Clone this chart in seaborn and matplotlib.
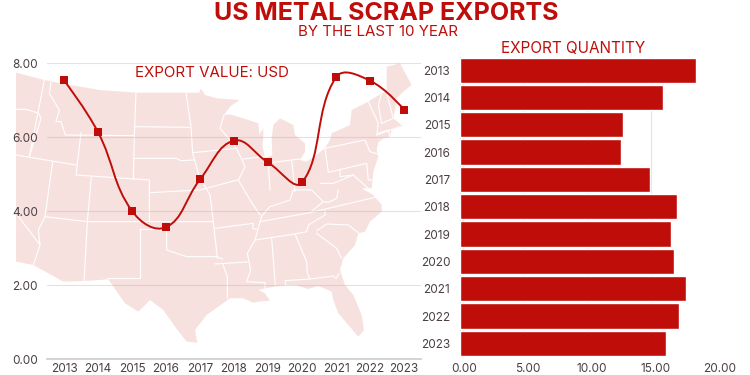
import numpy as np
import pandas as pd
import matplotlib
matplotlib.use("Agg")
import matplotlib.pyplot as plt
from matplotlib.path import Path
from matplotlib.patches import Polygon, PathPatch
from matplotlib.transforms import ScaledTranslation
import seaborn as sns

years = ["2013", "2014", "2015", "2016", "2017", "2018", "2019", "2020", "2021", "2022", "2023"]
export_value = [7.54, 6.14, 4.01, 3.57, 4.86, 5.91, 5.32, 4.78, 7.62, 7.53, 6.75]
export_quantity = [18.49, 15.87, 12.77, 12.58, 14.86, 17.0, 16.5, 16.79, 17.73, 17.15, 16.11]

RED = "#BF0D0A"
MAP = "#F6E1DF"
TXT = "#4A3F45"
FONT = "Inter"

sns.set_theme(style="white")
plt.rcParams["font.family"] = [FONT, "DejaVu Sans"]

W, H = 750, 375
fig = plt.figure(figsize=(W / 100, H / 100), dpi=100, facecolor="white")


def box(l, t, r, b):
    return [l / W, 1 - b / H, (r - l) / W, (b - t) / H]


# decorative map backdrop, traced at 3x (offset y 40)
bg = fig.add_axes([0, 0, 1, 1], zorder=0)
bg.set_xlim(0, W)
bg.set_ylim(H, 0)
bg.axis("off")


def ne(pts):
    return [(x + 690, y + 45) for x, y in pts]


def se(pts):
    return [(x + 690, y + 450) for x, y in pts]


outline = (
    [(48, 98), (133, 120), (193, 132), (300, 150), (408, 158), (555, 158), (598, 158), (603, 146), (615, 165),
     (650, 175), (718, 180), (690, 200), (672, 225)]
    + ne([(0, 178), (40, 190), (85, 205), (88, 238), (100, 220), (100, 245), (97, 270), (105, 310), (127, 300),
          (125, 250), (130, 210), (150, 190), (190, 210), (195, 240), (225, 265), (225, 290), (210, 315), (230, 320),
          (245, 310), (285, 280), (300, 255), (305, 235), (360, 210), (365, 165), (415, 140), (455, 115), (470, 110),
          (470, 35), (510, 25), (545, 90), (520, 110), (500, 130), (495, 165), (490, 190), (518, 213), (485, 225),
          (480, 245), (460, 250), (445, 262), (440, 285), (445, 305), (430, 350), (425, 400)])
    + se([(395, -5), (430, 15), (455, 45), (455, 65), (420, 95), (405, 125), (385, 130), (375, 165), (340, 205),
          (330, 240), (345, 285), (370, 315), (395, 375), (402, 420), (385, 440), (355, 405), (325, 370), (310, 330),
          (305, 305), (265, 288), (235, 297), (195, 285), (165, 285), (105, 295), (85, 300), (105, 310), (120, 332),
          (85, 335), (70, 338), (40, 325), (0, 325)])
    + [(620, 825), (585, 870), (592, 908), (560, 905), (525, 860), (490, 810), (450, 780), (415, 815), (375, 790),
       (325, 718), (272, 722), (190, 725), (100, 675), (48, 665)]
)
borders = [
    [(133, 120), (88, 350)],
    [(48, 208), (78, 208), (116, 220), (123, 235), (88, 350)],
    [(153, 125), (148, 160), (178, 210), (168, 245), (183, 245), (196, 285), (403, 287)],
    [(243, 277), (228, 405), (448, 420), (448, 545)],
    [(408, 158), (403, 287), (400, 418)],
    [(48, 345), (228, 375)],
    [(158, 365), (135, 530), (262, 545), (640, 545)],
    [(48, 520), (120, 615), (100, 675)],
    [(135, 530), (115, 570), (120, 615)],
    [(274, 412), (262, 545), (252, 730)],
    [(420, 568), (420, 715), (320, 715)],
    [(420, 568), (500, 570), (500, 630), (560, 650), (650, 650), (668, 657)],
    [(448, 458), (600, 450), (712, 420)],
    [(640, 545), (652, 655)],
    [(558, 158), (573, 260), (578, 340), (598, 410), (630, 465), (640, 545)],
    [(403, 260), (568, 262)],
    [(403, 355), (528, 355), (543, 362), (583, 360)],
    [(672, 225), (660, 265), (690, 300), (712, 330), (735, 380), (715, 420), (750, 480), (780, 525)],
    [(578, 338), (710, 325)],
    ne([(40, 312), (100, 305)]),
    ne([(130, 322), (225, 310)]),
    ne([(115, 325), (120, 405)]),
    ne([(185, 315), (195, 410)]),
    ne([(285, 280), (295, 352), (410, 325)]),
    ne([(285, 280), (405, 255), (420, 290), (442, 297)]),
    ne([(415, 140), (445, 205), (440, 240), (515, 213)]),
    ne([(455, 115), (445, 150), (455, 205)]),
    ne([(470, 113), (490, 190), (455, 205)]),
    ne([(445, 235), (475, 225), (480, 245)]),
    ne([(330, 345), (330, 365), (370, 360)]),
    ne([(410, 325), (415, 375), (430, 375)]),
    ne([(270, 385), (310, 385), (370, 360), (420, 405)]),
    se([(90, 95), (240, 68), (435, 22)]),
    se([(75, 150), (195, 132), (230, 125), (235, 105), (285, 75), (285, 60)]),
    se([(260, 122), (290, 102), (355, 105), (385, 128)]),
    se([(260, 130), (320, 175), (335, 205)]),
    se([(125, 145), (135, 275), (135, 285)]),
    se([(195, 132), (230, 215), (232, 250), (240, 267)]),
    se([(168, 285), (165, 272), (240, 267), (310, 258), (318, 265), (328, 250)]),
    se([(95, 78), (90, 95), (75, 150), (52, 190), (62, 240), (50, 275), (105, 278), (105, 295)]),
    se([(-45, 222), (52, 216)]),
    se([(-45, 115), (70, 100), (68, 115), (80, 118)]),
    se([(-22, 222), (-8, 260), (-8, 325)]),
    se([(95, 78), (120, 50), (180, 30), (190, 0), (225, 0), (245, 0), (280, 35), (295, 37), (320, 25), (325, 0)]),
    se([(240, 68), (280, 35)]),
]


def to_px(pts):
    return [(x / 3, 40 + y / 3) for x, y in pts]


shape = Polygon(to_px(outline), closed=True, facecolor=MAP, edgecolor="none")
bg.add_patch(shape)
for b in borders:
    xs, ys = zip(*to_px(b))
    ln, = bg.plot(xs, ys, color="white", lw=0.8, solid_joinstyle="round")
    ln.set_clip_path(shape)

# left chart
PX_X, PX_Y = 34.0, 37.0  # pixels per category / per value unit
ax = fig.add_axes(box(47, 63.3, 421, 359.3), zorder=1)
ax.patch.set_alpha(0)
frame = pd.DataFrame({"year": years, "value": export_value, "quantity": export_quantity})

# smooth line through the data points, with control arms scaled to neighbouring segment lengths
pts = np.column_stack([np.arange(len(years)), export_value], )
tension = 0.42
arm_in = np.zeros_like(pts)
arm_out = np.zeros_like(pts)
for i in range(1, len(pts) - 1):
    d0 = np.hypot((pts[i, 0] - pts[i - 1, 0]) * PX_X, (pts[i, 1] - pts[i - 1, 1]) * PX_Y)
    d1 = np.hypot((pts[i + 1, 0] - pts[i, 0]) * PX_X, (pts[i + 1, 1] - pts[i, 1]) * PX_Y)
    chord = pts[i + 1] - pts[i - 1]
    arm_in[i] = -tension * d0 / (d0 + d1) * chord
    arm_out[i] = tension * d1 / (d0 + d1) * chord
verts = [tuple(pts[0])]
codes = [Path.MOVETO]
for i in range(len(pts) - 1):
    verts += [tuple(pts[i] + arm_out[i]), tuple(pts[i + 1] + arm_in[i + 1]), tuple(pts[i + 1])]
    codes += [Path.CURVE4] * 3

sns.scatterplot(data=frame, x="year", y="value", marker="s", s=26, color=RED, edgecolor=RED, linewidth=0,
                ax=ax, zorder=4, legend=False)
ax.add_patch(PathPatch(Path(verts, codes), facecolor="none", edgecolor=RED, lw=1.4, zorder=3))
ax.set_xlim(-0.5, 10.5)
ax.set_ylim(0, 8)
ax.set_yticks([0, 2, 4, 6, 8], ["0.00", "2.00", "4.00", "6.00", "8.00"])
ax.set_xlabel("")
ax.set_ylabel("")
ax.grid(axis="y", color="#B9A9A9", alpha=0.35, lw=0.8)
ax.grid(axis="x", visible=False)
ax.set_axisbelow(True)
sns.despine(ax=ax, left=True, top=True, right=True)
ax.spines["bottom"].set_color("#CFCFCF")
ax.tick_params(axis="both", length=0, labelsize=8.5, labelcolor=TXT)
ax.tick_params(axis="y", pad=6.5)
ax.tick_params(axis="x", pad=2.5)

# right chart
ax2 = fig.add_axes(box(460, 56.5, 715.3, 357), zorder=1)
sns.barplot(data=frame, x="quantity", y="year", orient="h", color=RED, saturation=1, width=0.925, ax=ax2)
ax2.set_xlim(0, 20)
ax2.set_xticks([0, 5, 10, 15, 20], ["0.00", "5.00", "10.00", "15.00", "20.00"])
ax2.set_xlabel("")
ax2.set_ylabel("")
ax2.grid(axis="x", color="#E2E2E2", lw=0.8)
ax2.grid(axis="y", visible=False)
ax2.set_axisbelow(True)
sns.despine(ax=ax2, left=True, top=True, right=True, bottom=True)
ax2.tick_params(axis="both", length=0, labelsize=8.5, labelcolor=TXT)
ax2.tick_params(axis="y", pad=7)
ax2.tick_params(axis="x", pad=4)
shift = ScaledTranslation(4 / 100, 0, fig.dpi_scale_trans)
for lab in ax2.get_xticklabels():
    lab.set_transform(lab.get_transform() + shift)

# texts
top = fig.add_axes([0, 0, 1, 1], zorder=5)
top.set_xlim(0, W)
top.set_ylim(H, 0)
top.axis("off")
top.text(386, 14, "US METAL SCRAP EXPORTS", ha="center", va="center", color=RED, fontsize=18, fontweight="bold")
top.text(378, 32, "BY THE LAST 10 YEAR", ha="center", va="center", color=RED, fontsize=10.8)
top.text(212, 73, "EXPORT VALUE: USD", ha="center", va="center", color=RED, fontsize=10.8)
top.text(573, 48, "EXPORT QUANTITY", ha="center", va="center", color=RED, fontsize=11)

fig.savefig("out.png", dpi=100)
